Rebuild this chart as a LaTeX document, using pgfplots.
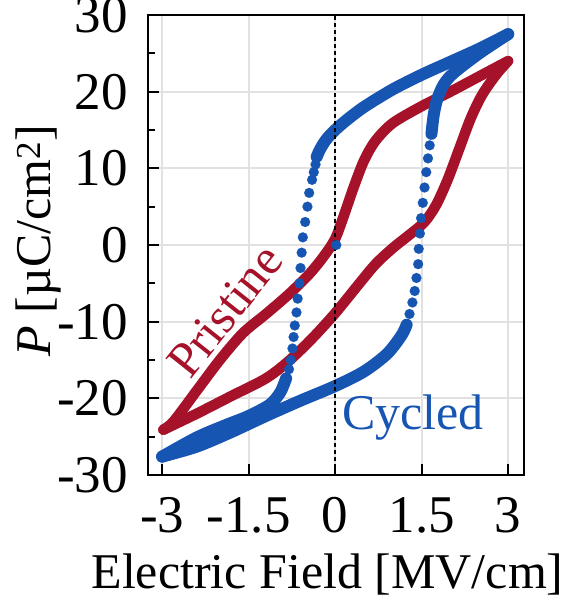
\documentclass[border=0pt]{standalone}
\usepackage{fontspec}
\setmainfont{Liberation Serif}
\usepackage{pgfplots}
\pgfplotsset{compat=1.18}
\definecolor{cred}{RGB}{166,18,41}
\definecolor{cblue}{RGB}{22,86,178}
\definecolor{cgrid}{RGB}{225,225,225}
\begin{document}
\begin{tikzpicture}
\begin{axis}[name=ax,
  at={(0,0)}, anchor=south west,
  scale only axis, width=376pt, height=460pt,
  xmin=-3.245, xmax=3.275, ymin=-30, ymax=30,
  xtick={-3,-1.5,0,1.5,3}, xticklabels={-3,-1.5,0,1.5,3},
  ytick={-30,-20,-10,0,10,20,30}, yticklabels={-30,-20,-10,0,10,20,30},
  minor ytick={-25,-15,-5,5,15,25},
  xtick pos=bottom, ytick pos=left, tick align=inside,
  major tick length=11pt, minor tick length=7pt,
  every tick/.style={black, line width=2pt},
  axis line style={line width=2.5pt},
  grid=major, major grid style={draw=cgrid, line width=1.8pt},
  xticklabel style={font=\fontsize{53}{60}\selectfont, anchor=north, inner sep=0pt, yshift=-22pt},
  yticklabel style={font=\fontsize{53}{60}\selectfont, anchor=east, inner sep=0pt, xshift=-20pt},
  xlabel={Electric Field [MV/cm]},
  ylabel={\textit{P} [µC/cm\textsuperscript{2}]},
  xlabel style={font=\fontsize{50}{60}\selectfont, at={(axis description cs:0.4774,-0.2457)}, anchor=base, inner sep=0pt},
  ylabel style={font=\fontsize{50}{60}\selectfont, at={(axis description cs:-0.2606,0.510)}, anchor=base, inner sep=0pt},
]
% Pristine
\addplot[cred, line width=10.5pt, line cap=round, line join=round, smooth] coordinates {
(3.0,24.0) (2.5,22.0) (2.0,20.0) (1.5,18.1) (1.0,15.9) (0.7,13.6) (0.5,11.0) (0.32,7.5) (0.15,3.8) (0.0,0.8) (-0.2,-1.5) (-0.45,-3.8) (-0.8,-6.4) (-1.2,-9.0) (-1.6,-11.5) (-2.0,-15.0) (-2.4,-19.0) (-2.8,-23.0) (-2.98,-24.1)
};
\addplot[cred, line width=10.5pt, line cap=round, line join=round, smooth] coordinates {
(-2.98,-24.1) (-2.4,-22.0) (-1.8,-19.7) (-1.2,-17.4) (-0.8,-15.1) (-0.4,-12.2) (0,-8.9) (0.4,-5.2) (0.7,-2.5) (1.0,-0.4) (1.3,1.4) (1.55,3.0) (1.75,5.2) (1.95,8.5) (2.15,12.5) (2.35,16.5) (2.55,19.6) (2.8,22.3) (3.0,24.0)
};
% Cycled: dense parts
\addplot[cblue, line width=12pt, line cap=round, line join=round, smooth] coordinates {
(3.0,27.5) (2.5,25.6) (2.0,23.9) (1.5,22.2) (1.0,20.3) (0.5,18.0) (0.2,16.3) (0.0,15.0) (-0.15,13.8) (-0.26,12.5) (-0.32,11.5)
};
\addplot[cblue, line width=12pt, line cap=round, line join=round, smooth] coordinates {
(-0.85,-17.4) (-0.95,-19.2) (-1.13,-20.8) (-1.5,-22.3) (-1.9,-23.5) (-2.4,-25.1) (-3.0,-27.6)
};
\addplot[cblue, line width=12pt, line cap=round, line join=round, smooth] coordinates {
(-3.0,-27.6) (-2.4,-26.3) (-1.8,-24.4) (-1.2,-22.3) (-0.6,-20.3) (0,-18.4) (0.5,-16.5) (0.9,-14.2) (1.15,-11.8) (1.24,-10.4)
};
\addplot[cblue, line width=12pt, line cap=round, line join=round, smooth] coordinates {
(1.67,14.5) (1.71,17.0) (1.77,19.0) (1.88,20.9) (2.05,22.4) (2.5,25.0) (3.0,27.5)
};
% Cycled: sparse dots on the switching branches
\addplot[cblue, only marks, mark=*, mark size=5pt, mark options={draw=cblue, fill=cblue, line width=0.1pt}] coordinates {
(-0.30,11.5) (-0.34,10.5) (-0.37,9.5) (-0.40,8.5) (-0.45,6.8) (-0.48,5.0) (-0.52,3.0) (-0.56,1.0) (-0.58,-1.0) (-0.60,-3.0) (-0.62,-5.0) (-0.65,-7.0) (-0.67,-8.8) (-0.70,-10.5) (-0.72,-12.0) (-0.74,-13.5) (-0.77,-15.0) (-0.80,-16.2) (-0.85,-17.4)
(1.23,-10.5) (1.29,-9.0) (1.34,-7.5) (1.38,-6.0) (1.41,-4.3) (1.44,-2.5) (1.45,-0.5) (1.47,1.5) (1.49,3.5) (1.52,5.5) (1.55,7.5) (1.58,9.5) (1.61,11.3) (1.64,13.0) (1.67,14.5)
(0.02,0.0)
};
% zero line
\addplot[black, line width=1.3pt, dash pattern=on 4pt off 3pt] coordinates {(0,-30) (0,30)};
\node[rotate=51.5, anchor=center, text=cred, font=\fontsize{50}{60}\selectfont, inner sep=0pt] at (axis cs:-1.91,-8.6) {Pristine};
\node[anchor=base west, text=cblue, font=\fontsize{50}{60}\selectfont, inner sep=0pt] at (axis cs:0.12,-24.0) {Cycled};
\end{axis}
\pgfresetboundingbox
\path[use as bounding box] ([xshift=-148pt,yshift=-127pt]ax.south west) rectangle ([xshift=45pt,yshift=15pt]ax.north east);
\end{tikzpicture}
\end{document}
